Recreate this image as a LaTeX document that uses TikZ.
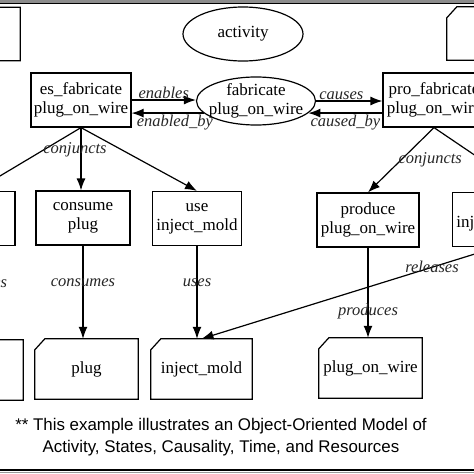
\documentclass[tikz,border=0pt]{standalone}
\usepackage{fontspec}
\setmainfont{Liberation Serif}
\newfontfamily\notefont{Liberation Sans}
\usetikzlibrary{arrows.meta,shapes.geometric}

\tikzset{
  proc/.style={draw, line width=1.2pt, align=center, minimum height=54pt, inner sep=1pt, font=\fontsize{17}{19}\selectfont},
  act/.style={draw, ellipse, line width=1.2pt, align=center, inner xsep=-6pt, inner ysep=-4pt, font=\fontsize{17}{19}\selectfont},
  res/.style={align=center, minimum height=60pt, inner sep=1pt, font=\fontsize{17}{19}\selectfont},
  tab/.style={line width=1.2pt},
  rel/.style={line width=1.2pt, -{Latex[length=12pt,width=9pt]}},
  lab/.style={font=\fontsize{16.5}{19}\selectfont\itshape, text=black!85, inner sep=1pt},
  note/.style={align=center, inner sep=0pt, font=\notefont\fontsize{16.9}{22}\selectfont},
}

\begin{document}
\begin{tikzpicture}[x=1pt,y=-1pt]
            \useasboundingbox (0,0) rectangle (474,474);
            \clip (0,0) rectangle (474,474);

            \node[res, minimum width=100pt, minimum height=53pt] (ltop) at (-30,34) {};
            \node[act, minimum width=120pt, minimum height=54pt] (activity) at (243,34) {activity};
            \node[res, minimum width=100pt, minimum height=53pt] (rtop) at (497,33.5) {};

            \node[proc, minimum width=100pt] (es) at (81,100) {es\_fabricate\\plug\_on\_wire};
            \node[act, minimum width=119pt, minimum height=48pt] (fab) at (256,101) {fabricate\\plug\_on\_wire};
            \node[proc, minimum width=102pt] (pro) at (434,100) {pro\_fabricate\\plug\_on\_wire};

            \node[proc, minimum width=80pt] (lstep) at (-25,218.5) {};
            \node[proc, minimum width=94pt] (consume) at (83,218) {consume\\plug};
            \node[proc, minimum width=89pt] (use) at (197,218.5) {use\\inject\_mold};
            \node[proc, minimum width=102pt] (produce) at (368,220) {produce\\plug\_on\_wire};
            \node[proc, minimum width=89pt] (release) at (497,219.5) {\mbox{}\\inject\_mold};

            \node[res, minimum width=102pt] (lres) at (-28,370) {};
            \node[res, minimum width=103pt] (plug) at (86.5,369) {plug};
            \node[res, minimum width=101pt] (mold) at (201.5,369) {inject\_mold};
            \node[res, minimum width=103pt] (wire) at (370.5,368) {plug\_on\_wire};

            \foreach \n in {ltop,rtop,lres,plug,mold,wire}
                \draw[tab] ([yshift=-11pt]\n.north west) -- ([xshift=10pt]\n.north west) -- (\n.north east) -- (\n.south east) -- (\n.south west) -- cycle;

            \draw[rel] (es.east) to node[lab, above] {enables} (es.east -| fab.west);
            \draw[rel] (fab.193) to node[lab, below, pos=0.4] {enabled\_by} (fab.193 -| es.east);
            \draw[rel] (fab.east) to node[lab, above, pos=0.38] {causes} (fab.east -| pro.west);
            \draw[rel] (pro.west |- fab.347) to node[lab, below] {caused\_by} (fab.347);

            \draw[rel] (es.south) to (lstep.north);
            \draw[rel] (es.south) to node[lab, pos=0.36, xshift=-6pt] {conjuncts} (es.south |- consume.north);
            \draw[rel] (es.south) to (use.north);
            \draw[rel] (pro.south) to node[lab, right=-4pt] {conjuncts} (produce.north);
            \draw[rel] (pro.south) to ([xshift=32pt]release.north);

            \draw[rel] (lstep.south) to node[lab, pos=0.4] {consumes} (lstep.south |- lres.north);
            \draw[rel] (consume.south) to node[lab, pos=0.4] {consumes} (consume.south |- plug.north);
            \draw[rel] (use.south) to node[lab, pos=0.4] {uses} (use.south |- mold.north);
            \draw[rel] (produce.south) to node[lab, pos=0.71] {produces} (produce.south |- wire.north);
            \draw[rel] (release.south) to node[lab, pos=0.22] {releases} (mold.north);

            \node[note] (note) at (221,437) {** This example illustrates an Object-Oriented Model of\\Activity, States, Causality, Time, and Resources};

            \draw[black!45, line width=3pt] (0,1.5) -- (474,1.5);
            \draw[line width=1pt] (0,3.5) -- (474,3.5);
            \draw[line width=2pt] (0,470) -- (474,470);
            \draw[black!40, line width=1.5pt] (0,472.5) -- (474,472.5);
        \end{tikzpicture}
\end{document}
